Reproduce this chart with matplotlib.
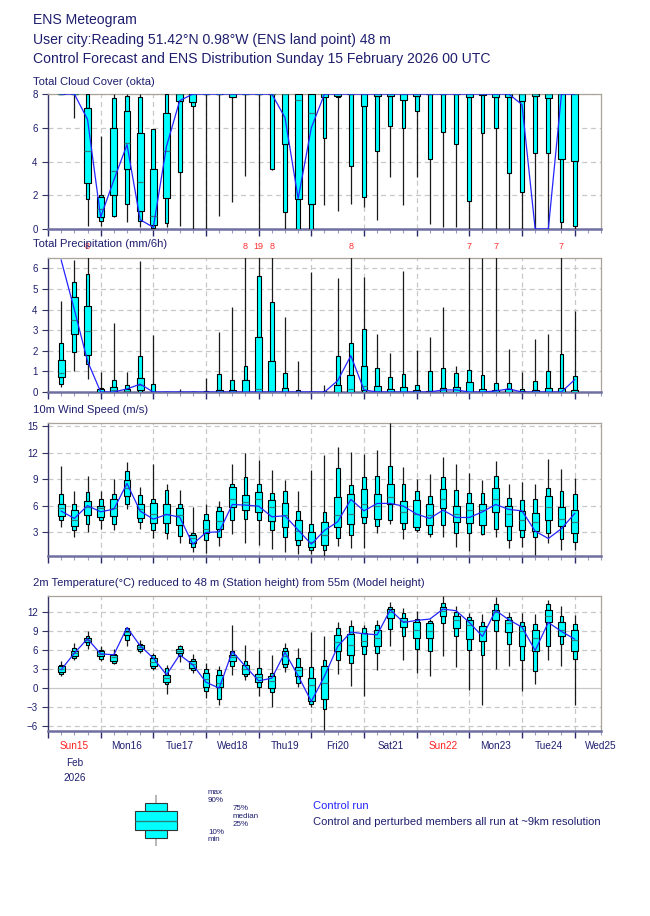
import numpy as np
import matplotlib
matplotlib.use("Agg")
import matplotlib.pyplot as plt
from matplotlib.transforms import blended_transform_factory

plt.rcParams['font.family'] = ['Liberation Sans', 'DejaVu Sans']

NAVY = '#1e1e6e'
CYAN = '#00ffff'
MEDC = '#2e8080'
GRID = '#c8c8c8'
CTRL = '#2424ff'

# forecast steps (hours from Sun 15 Feb 2026 00 UTC)
steps = list(range(6, 241, 6))
days = ['Sun15', 'Mon16', 'Tue17', 'Wed18', 'Thu19', 'Fri20', 'Sat21',
        'Sun22', 'Mon23', 'Tue24', 'Wed25']

# rows: min, p10, p25, median, p75, p90, max
cloud = [
    [8, 8, 8, 8, 8, 8, 8], [6.6, 8, 8, 8, 8, 8, 8],
    [0.18, 1.8, 2.73, 4.6, 7.17, 8, 8], [0.2, 0.5, 0.7, 1.2, 1.9, 2.0, 5.5],
    [0.7, 0.75, 2.0, 3.45, 6.0, 7.75, 8], [0.44, 1.5, 3.58, 5.1, 7.0, 7.9, 8],
    [0.14, 0.5, 1.09, 2.8, 5.68, 7.8, 8], [0, 0.05, 0.24, 0.8, 3.54, 5.9, 5.95],
    [0.14, 0.38, 1.86, 4.65, 6.85, 8, 8], [0.15, 3.37, 7.6, 8, 8, 8, 8],
    [0, 7.3, 7.5, 8, 8, 8, 8], [0, 8, 8, 8, 8, 8, 8],
    [0.8, 8, 8, 8, 8, 8, 8], [1.58, 7.8, 7.8, 8, 8, 8, 8],
    [3.17, 8, 8, 8, 8, 8, 8], [0, 8, 8, 8, 8, 8, 8],
    [3.5, 3.54, 8, 8, 8, 8, 8], [0, 1.03, 5.03, 8, 8, 8, 8],
    [0, 0, 1.78, 7.65, 8, 8, 8], [0, 0, 1.48, 6.9, 8, 8, 8],
    [1.41, 5.42, 7.85, 8, 8, 8, 8], [1.05, 7.8, 7.86, 8, 8, 8, 8],
    [1.5, 3.73, 8, 8, 8, 8, 8], [1.3, 1.9, 7.3, 8, 8, 8, 8],
    [0.56, 4.63, 7.86, 8, 8, 8, 8], [3.1, 6.08, 7.9, 8, 8, 8, 8],
    [1.45, 6.0, 7.66, 8, 8, 8, 8], [3.1, 7.0, 7.9, 8, 8, 8, 8],
    [0.32, 4.13, 8, 8, 8, 8, 8], [0.12, 5.74, 8, 8, 8, 8, 8],
    [0.12, 5.04, 8, 8, 8, 8, 8], [0, 1.65, 7.82, 8, 8, 8, 8],
    [0, 5.68, 7.92, 8, 8, 8, 8], [0, 5.96, 7.82, 8, 8, 8, 8],
    [0, 3.34, 7.82, 8, 8, 8, 8], [0, 2.17, 7.6, 8, 8, 8, 8],
    [0, 4.5, 7.9, 8, 8, 8, 8], [0, 4.5, 7.76, 8, 8, 8, 8],
    [0, 0.42, 4.17, 8, 8, 8, 8], [0, 0.16, 4.05, 8, 8, 8, 8],
]
cloud_ctrl = [8, 8, 6.5, 0.7, 2.9, 5.0, 0.55, 0.1, 4.9, 7.6,
              8, 8, 8, 8, 8, 8, 8, 6.6, 1.8, 6.0,
              8, 8, 8, 8, 8, 8, 8, 8, 8, 8,
              8, 8, 8, 8, 8, 7.37, 0, 0, 8, 8]

precip = [
    [0.23, 0.39, 0.73, 0.92, 1.56, 2.37, 4.42], [1.0, 1.94, 2.82, 3.5, 4.61, 5.32, 6.4],
    [0.65, 1.35, 1.8, 2.97, 4.18, 5.71, 8], [0, 0, 0, 0, 0.15, 0.2, 0.97],
    [0, 0, 0, 0.1, 0.24, 0.6, 3.37], [0, 0, 0, 0.05, 0.15, 0.32, 0.97],
    [0, 0, 0.1, 0.32, 0.68, 1.73, 6.35], [0, 0, 0, 0, 0, 0.4, 2.77],
    [0, 0, 0, 0, 0, 0, 0], [0, 0, 0, 0, 0, 0, 0.15],
    [0, 0, 0, 0, 0, 0, 0.06], [0, 0, 0, 0, 0, 0.05, 0.7],
    [0, 0, 0, 0, 0.1, 0.87, 2.9], [0, 0, 0, 0, 0.12, 0.56, 4.1],
    [0, 0, 0, 0, 0.56, 1.27, 8], [0, 0, 0, 0.16, 2.69, 5.64, 19],
    [0, 0, 0, 0.05, 1.48, 4.35, 8], [0, 0, 0, 0, 0.19, 0.94, 3.63],
    [0, 0, 0, 0, 0, 0.08, 1.48], [0, 0, 0, 0, 0, 0, 5.8],
    [0, 0, 0, 0, 0, 0.05, 0.35], [0, 0, 0, 0, 0.32, 1.76, 5.55],
    [0, 0, 0, 0.16, 0.84, 2.37, 8], [0, 0, 0.08, 0.27, 1.24, 3.05, 5.58],
    [0, 0, 0, 0.05, 0.29, 1.16, 2.8], [0, 0, 0, 0, 0.16, 0.74, 1.89],
    [0, 0, 0, 0, 0.23, 0.85, 5.87], [0, 0, 0, 0, 0.1, 0.32, 2.03],
    [0, 0, 0, 0, 0.06, 1.0, 2.66], [0, 0, 0, 0, 0.19, 1.15, 4.1],
    [0, 0, 0, 0, 0.24, 0.9, 1.27], [0, 0, 0, 0, 0.5, 1.06, 7],
    [0, 0, 0, 0, 0.16, 0.84, 6.5], [0, 0, 0, 0, 0.11, 0.45, 7],
    [0, 0, 0, 0, 0.16, 0.45, 2.1], [0, 0, 0, 0, 0.05, 0.16, 0.97],
    [0, 0, 0, 0, 0.1, 0.55, 2.56], [0, 0, 0, 0, 0.19, 1.0, 2.82],
    [0, 0, 0, 0, 0.18, 1.84, 7], [0, 0, 0, 0, 0.1, 0.79, 3.94],
]
precip_ctrl = [6.4, 4.0, 1.5, 0, 0, 0.15, 0.38, 0, 0, 0,
               0, 0, 0, 0, 0, 0, 0, 0, 0, 0,
               0, 0.55, 1.76, 0.1, 0, 0, 0, 0, 0, 0.1,
               0.1, 0, 0, 0.05, 0.15, 0, 0, 0, 0, 0.6]

wind = [
    [3.53, 4.43, 4.85, 5.75, 6.13, 7.26, 10.47], [2.4, 3.23, 3.75, 4.36, 5.5, 6.17, 7.64],
    [3.0, 3.9, 4.96, 5.87, 6.55, 7.53, 9.38], [3.3, 4.43, 4.74, 5.72, 5.94, 6.7, 7.68],
    [3.23, 3.87, 4.77, 5.68, 6.77, 7.3, 9.04], [5.64, 6.17, 7.11, 7.94, 8.9, 9.94, 10.9],
    [3.4, 4.17, 4.55, 5.57, 6.13, 7.2, 8.1], [2.3, 3.23, 4.06, 5.0, 6.32, 6.77, 10.7],
    [2.17, 2.85, 4.06, 5.1, 6.2, 7.75, 8.5], [1.8, 2.55, 3.83, 4.92, 5.75, 6.2, 7.75],
    [0.7, 1.34, 1.72, 2.3, 2.66, 2.85, 5.87], [0.66, 2.1, 2.85, 3.4, 4.36, 5.0, 6.17],
    [1.45, 2.47, 3.3, 4.28, 5.41, 5.87, 6.55], [2.74, 4.36, 5.8, 6.7, 8.06, 8.5, 10.7],
    [1.72, 4.47, 5.5, 6.43, 7.2, 9.26, 11.9], [1.53, 4.43, 5.23, 6.77, 7.57, 8.5, 11.15],
    [1.04, 3.23, 4.28, 5.8, 6.62, 7.38, 10.0], [0.77, 2.47, 3.53, 4.92, 6.25, 7.68, 8.9],
    [0.51, 1.53, 2.1, 3.11, 4.43, 5.38, 7.68], [0.58, 0.96, 1.34, 1.9, 3.04, 3.9, 10.0],
    [0.25, 0.96, 1.53, 2.66, 4.2, 5.3, 11.7], [1.42, 2.36, 3.53, 4.92, 7.0, 10.3, 12.58],
    [1.23, 2.62, 3.87, 5.1, 7.26, 8.36, 12.1], [1.23, 3.98, 4.66, 6.13, 7.83, 9.19, 11.83],
    [2.85, 3.68, 4.47, 5.94, 7.26, 9.34, 12.28], [3.87, 4.36, 6.13, 7.0, 8.4, 10.5, 15.38],
    [2.28, 3.3, 3.98, 5.3, 6.55, 8.5, 10.4], [3.04, 3.23, 3.6, 5.1, 6.62, 7.68, 8.96],
    [2.4, 2.74, 3.79, 4.92, 6.13, 7.08, 9.57], [2.4, 3.79, 5.68, 6.7, 7.87, 9.19, 11.45],
    [1.34, 2.85, 4.17, 5.1, 5.94, 7.75, 10.66], [0.89, 2.85, 4.09, 5.49, 6.25, 7.45, 9.64],
    [2.66, 2.74, 3.79, 5.49, 6.17, 7.38, 8.9], [2.47, 3.4, 5.23, 6.7, 7.94, 9.38, 11.04],
    [1.23, 2.1, 3.72, 5.0, 5.94, 6.89, 8.4], [1.34, 2.47, 3.23, 4.36, 5.41, 6.62, 8.62],
    [0.36, 2.47, 3.11, 4.17, 5.19, 6.7, 8.5], [1.72, 2.85, 4.43, 5.8, 7.11, 8.0, 11.26],
    [0.96, 2.28, 3.68, 4.47, 5.87, 7.64, 10.2], [0.96, 1.83, 2.85, 4.17, 5.49, 7.26, 9.08],
]
wind_ctrl = [5.38, 4.55, 6.0, 5.3, 5.6, 8.5, 5.38, 4.47, 5.0, 4.7,
             1.64, 2.96, 3.04, 6.13, 6.06, 5.94, 4.74, 4.85, 3.23, 1.64,
             3.2, 4.17, 6.7, 5.41, 6.25, 6.25, 5.94, 5.04, 4.55, 5.49,
             4.66, 4.66, 5.3, 6.13, 5.57, 5.41, 3.11, 2.28, 3.4, 5.11]

temp = [
    [1.94, 2.26, 2.62, 3.04, 3.41, 3.67, 4.2], [4.46, 4.72, 5.1, 5.5, 5.88, 6.3, 7.1],
    [6.14, 6.82, 7.19, 7.6, 7.87, 8.14, 8.92], [4.3, 4.62, 4.99, 5.35, 5.77, 6.04, 6.67],
    [3.73, 3.94, 4.2, 4.88, 5.25, 5.35, 6.2], [6.67, 7.6, 8.3, 8.77, 9.03, 9.4, 9.6],
    [5.5, 5.77, 6.14, 6.46, 6.77, 6.98, 7.6], [2.78, 3.15, 3.41, 4.04, 4.72, 5.2, 5.5],
    [-0.9, 0.63, 0.94, 1.57, 2.1, 3.15, 3.57], [4.04, 5.1, 5.51, 5.88, 6.2, 6.56, 6.82],
    [2.36, 2.89, 3.25, 3.83, 4.2, 4.57, 5.4], [-1.57, -0.37, 0.26, 1.47, 2.36, 3.04, 3.94],
    [-2.62, -1.73, 0.26, 0.79, 2.1, 2.89, 3.52], [2.1, 3.41, 4.2, 4.88, 5.25, 5.77, 9.97],
    [1.31, 1.84, 2.2, 3.04, 3.67, 4.2, 6.82], [-1.2, 0.16, 0.94, 1.73, 2.26, 3.15, 6.04],
    [-3.0, -0.68, 0.0, 1.05, 1.94, 2.36, 5.25], [2.62, 3.3, 3.78, 4.99, 5.77, 6.3, 7.1],
    [0.26, 0.79, 1.94, 2.89, 3.3, 4.72, 6.3], [-2.89, -2.47, -2.0, 0.52, 1.57, 3.3, 8.77],
    [-6.56, -3.3, -1.73, 0.8, 3.41, 4.46, 8.14], [2.26, 4.46, 5.77, 7.19, 8.4, 9.45, 10.34],
    [0.37, 3.94, 5.25, 6.72, 8.56, 9.71, 10.66], [-1.2, 5.35, 6.67, 7.35, 8.66, 9.45, 9.9],
    [2.78, 5.51, 6.56, 7.87, 9.19, 9.97, 10.76], [6.56, 9.29, 11.02, 11.92, 12.44, 12.76, 13.5],
    [4.46, 8.24, 9.6, 10.5, 11.02, 11.8, 12.6], [2.36, 6.2, 7.87, 9.19, 10.4, 10.87, 12.07],
    [1.84, 5.77, 7.87, 8.92, 10.24, 10.5, 10.87], [5.1, 10.24, 11.29, 12.07, 12.76, 13.39, 14.5],
    [3.3, 8.24, 9.45, 10.76, 11.29, 11.92, 12.97], [-0.26, 6.04, 7.72, 9.97, 10.66, 11.13, 11.8],
    [-2.62, 5.25, 7.45, 8.92, 9.71, 10.4, 11.7], [2.99, 8.92, 10.66, 11.92, 12.23, 13.28, 14.33],
    [3.41, 6.98, 8.77, 10.24, 10.76, 11.18, 11.97], [-0.52, 4.36, 6.56, 8.92, 9.71, 10.4, 11.8],
    [0.68, 2.73, 5.88, 7.87, 9.19, 10.13, 11.7], [4.46, 6.67, 10.34, 11.29, 12.23, 13.23, 13.8],
    [3.41, 6.98, 8.24, 9.19, 10.4, 11.29, 12.86], [-2.62, 4.57, 5.88, 7.6, 9.19, 10.13, 11.55],
]
temp_ctrl = [2.9, 5.5, 7.77, 5.4, 5.25, 9.55, 6.67, 4.72, 2.1, 5.25,
             3.67, 0.94, 0.0, 5.77, 3.41, 1.15, 1.57, 5.62, 1.94, -2.1,
             1.9, 6.56, 8.82, 8.56, 8.4, 12.34, 10.34, 10.66, 10.87, 12.44,
             12.18, 10.34, 8.14, 12.23, 10.76, 9.6, 5.93, 10.34, 8.92, 7.72]

W, H = 650, 916
fig = plt.figure(figsize=(W / 100, H / 100), dpi=100)


def add_panel(top, bottom):
    return fig.add_axes([48 / W, 1 - bottom / H, 553 / W, (bottom - top) / H])


def style(ax, ylim, yticks, zero_line=False):
    ax.set_xlim(0, 252)
    ax.set_ylim(*ylim)
    ax.set_yticks(yticks)
    ax.set_xticks(range(0, 253, 24))
    ax.set_xticks(range(6, 253, 6), minor=True)
    ax.tick_params(axis='y', colors=NAVY, labelsize=7, length=4, width=0.8)
    ax.tick_params(axis='y', color='#333366')
    ax.tick_params(axis='x', which='major', length=5, width=1.0,
                   color='#2a2a6a', labelbottom=False)
    ax.tick_params(axis='x', which='minor', length=3, width=0.8, color='#9a9ac0')
    for yt in yticks:
        if zero_line and yt == 0:
            ax.axhline(yt, color='#c8c8c8', lw=0.9, zorder=0)
        else:
            ax.axhline(yt, color=GRID, lw=0.9, ls=(0, (4, 3)), zorder=0)
    for d in range(24, 241, 24):
        ax.axvline(d, color=GRID, lw=0.9, ls=(0, (4, 3)), zorder=0)
    for s in ('top', 'right'):
        ax.spines[s].set_color('#a8a49a')
        ax.spines[s].set_linewidth(0.9)
    ax.spines['left'].set_color('#333366')
    ax.spines['left'].set_linewidth(1.0)
    ax.spines['bottom'].set_color('#7070a0')
    ax.spines['bottom'].set_linewidth(1.8)


def draw_boxes(ax, stats, ctrl):
    a = np.array(stats, float)
    x = np.array(steps, float)
    mn, p10, p25, med, p75, p90, mx = a.T
    ax.vlines(x, mn, p10, color='#1a1a1a', lw=0.9, zorder=3)
    ax.vlines(x, p90, mx, color='#1a1a1a', lw=0.9, zorder=3)
    kw = dict(color=CYAN, edgecolor='black', linewidth=0.8, zorder=4)
    ax.bar(x, p25 - p10, width=1.7, bottom=p10, **kw)
    ax.bar(x, p90 - p75, width=1.7, bottom=p75, **kw)
    ax.bar(x, p75 - p25, width=3.1, bottom=p25, **kw)
    ax.hlines(med, x - 1.5, x + 1.5, color=MEDC, lw=0.9, zorder=5)
    ax.plot(x, ctrl, color=CTRL, lw=0.9, zorder=6)


ax_c = add_panel(94, 229)
style(ax_c, (0, 8), [0, 2, 4, 6, 8])
draw_boxes(ax_c, cloud, cloud_ctrl)

ax_p = add_panel(258, 392)
style(ax_p, (0, 6.5), [0, 1, 2, 3, 4, 5, 6])
draw_boxes(ax_p, precip, precip_ctrl)
tr = blended_transform_factory(ax_p.transData, ax_p.transAxes)
for s, row in zip(steps, precip):
    if row[6] > 6.5:
        ax_p.text(s, 1 + 11 / 134, '%d' % round(row[6]), color='#ff3030',
                  fontsize=6.5, ha='center', va='center', transform=tr)

ax_w = add_panel(423, 556)
style(ax_w, (0.3, 15.35), [3, 6, 9, 12, 15])
draw_boxes(ax_w, wind, wind_ctrl)

ax_t = add_panel(596, 731)
style(ax_t, (-6.74, 14.5), [-6, -3, 0, 3, 6, 9, 12], zero_line=True)
draw_boxes(ax_t, temp, temp_ctrl)
tr = blended_transform_factory(ax_t.transData, ax_t.transAxes)
for i, d in enumerate(days):
    col = '#ff2020' if d.startswith('Sun') else NAVY
    ax_t.text(12 + 24 * i, -15 / 135, d, color=col, fontsize=7.2,
              ha='center', va='center', transform=tr)
ax_t.text(12, -32 / 135, 'Feb', color=NAVY, fontsize=7.2, ha='center',
          va='center', transform=tr)
ax_t.text(12, -47 / 135, '2026', color=NAVY, fontsize=7.2, ha='center',
          va='center', transform=tr)

# overlay in pixel coordinates for headings and key
ov = fig.add_axes([0, 0, 1, 1])
ov.set_xlim(0, W)
ov.set_ylim(H, 0)
ov.axis('off')

ov.text(33, 20, 'ENS Meteogram', color=NAVY, fontsize=10.1, va='center')
ov.text(33, 40, 'User city:Reading 51.42°N 0.98°W (ENS land point) 48 m',
        color=NAVY, fontsize=10.1, va='center')
ov.text(33, 59, 'Control Forecast and ENS Distribution Sunday 15 February 2026 00 UTC',
        color=NAVY, fontsize=10.1, va='center')
for ty, t in [(82, 'Total Cloud Cover (okta)'),
              (244, 'Total Precipitation (mm/6h)'),
              (410, '10m Wind Speed (m/s)'),
              (583, '2m Temperature(°C) reduced to 48 m (Station height) from 55m (Model height)')]:
    ov.text(33, ty, t, color=NAVY, fontsize=8.1, va='center', zorder=10)

# box key
ov.vlines(156, 795, 846, color='#aaaaaa', lw=1.2, zorder=1)
ov.bar(156, 8, width=22, bottom=803, color=CYAN, edgecolor='#333333', lw=0.8, zorder=2)
ov.bar(156, 8, width=22, bottom=830, color=CYAN, edgecolor='#333333', lw=0.8, zorder=2)
ov.bar(156, 19, width=42, bottom=811, color=CYAN, edgecolor='#333333', lw=0.8, zorder=3)
ov.hlines(820.5, 135, 177, color=MEDC, lw=1.0, zorder=4)
for tx, ty, t in [(208, 793, 'max'), (208, 801, '90%'), (233, 809, '75%'),
                  (233, 816.5, 'median'), (233, 824, '25%'), (208, 832, '10%'),
                  (208, 839.5, 'min')]:
    ov.text(tx, ty, t, color=NAVY, fontsize=5.8, va='center')
ov.text(313, 806, 'Control run', color=CTRL, fontsize=8, va='center')
ov.text(313, 822, 'Control and perturbed members all run at ~9km resolution',
        color=NAVY, fontsize=8, va='center')

fig.savefig('out.png', dpi=100)
